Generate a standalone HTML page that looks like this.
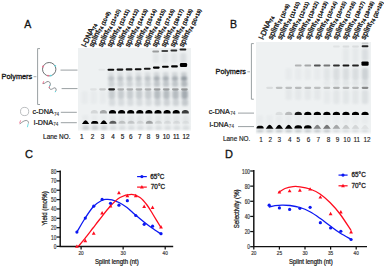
<!DOCTYPE html>
<html><head><meta charset="utf-8"><style>
html,body{margin:0;padding:0;background:#fff;width:384px;height:268px;overflow:hidden}
svg{display:block;font-family:"Liberation Sans", sans-serif}
</style></head><body>
<svg width="384" height="268" viewBox="0 0 384 268" font-family='"Liberation Sans", sans-serif'>
<defs><filter id="bl1" x="-50%" y="-100%" width="200%" height="300%"><feGaussianBlur stdDeviation="0.5"/></filter><filter id="bl2" x="-50%" y="-50%" width="200%" height="200%"><feGaussianBlur stdDeviation="1.1"/></filter><linearGradient id="fadeA" x1="0" y1="0" x2="0" y2="1"><stop offset="0" stop-color="#fff" stop-opacity="0"/><stop offset="1" stop-color="#fff" stop-opacity="1"/></linearGradient></defs>
<rect width="384" height="268" fill="#ffffff"/>
<rect x="78" y="48" width="113" height="83" fill="#eef1f2"/>
<rect x="107.86" y="72.00" width="6.4" height="4.00" rx="2" fill="#55606a" opacity="0.12" filter="url(#bl2)"/>
<rect x="108.03" y="76.00" width="6.4" height="5.00" rx="2" fill="#55606a" opacity="0.3" filter="url(#bl2)"/>
<rect x="108.24" y="81.00" width="6.4" height="6.00" rx="2" fill="#55606a" opacity="0.2" filter="url(#bl2)"/>
<rect x="108.63" y="90.00" width="6.4" height="9.00" rx="2" fill="#55606a" opacity="0.25" filter="url(#bl2)"/>
<rect x="108.94" y="99.00" width="6.4" height="7.00" rx="2" fill="#55606a" opacity="0.14" filter="url(#bl2)"/>
<rect x="109.58" y="115.00" width="6.4" height="9.00" rx="2" fill="#55606a" opacity="0.07" filter="url(#bl2)"/>
<rect x="109.92" y="125.50" width="6.4" height="5.50" rx="2" fill="#55606a" opacity="0.12" filter="url(#bl2)"/>
<rect x="116.96" y="72.00" width="6.4" height="4.00" rx="2" fill="#55606a" opacity="0.12" filter="url(#bl2)"/>
<rect x="117.13" y="76.00" width="6.4" height="5.00" rx="2" fill="#55606a" opacity="0.3" filter="url(#bl2)"/>
<rect x="117.34" y="81.00" width="6.4" height="6.00" rx="2" fill="#55606a" opacity="0.2" filter="url(#bl2)"/>
<rect x="117.73" y="90.00" width="6.4" height="9.00" rx="2" fill="#55606a" opacity="0.25" filter="url(#bl2)"/>
<rect x="118.04" y="99.00" width="6.4" height="7.00" rx="2" fill="#55606a" opacity="0.14" filter="url(#bl2)"/>
<rect x="118.68" y="115.00" width="6.4" height="9.00" rx="2" fill="#55606a" opacity="0.07" filter="url(#bl2)"/>
<rect x="119.02" y="125.50" width="6.4" height="5.50" rx="2" fill="#55606a" opacity="0.12" filter="url(#bl2)"/>
<rect x="126.06" y="72.00" width="6.4" height="4.00" rx="2" fill="#55606a" opacity="0.12" filter="url(#bl2)"/>
<rect x="126.23" y="76.00" width="6.4" height="5.00" rx="2" fill="#55606a" opacity="0.3" filter="url(#bl2)"/>
<rect x="126.44" y="81.00" width="6.4" height="6.00" rx="2" fill="#55606a" opacity="0.2" filter="url(#bl2)"/>
<rect x="126.83" y="90.00" width="6.4" height="9.00" rx="2" fill="#55606a" opacity="0.25" filter="url(#bl2)"/>
<rect x="127.14" y="99.00" width="6.4" height="7.00" rx="2" fill="#55606a" opacity="0.14" filter="url(#bl2)"/>
<rect x="127.78" y="115.00" width="6.4" height="9.00" rx="2" fill="#55606a" opacity="0.07" filter="url(#bl2)"/>
<rect x="128.12" y="125.50" width="6.4" height="5.50" rx="2" fill="#55606a" opacity="0.12" filter="url(#bl2)"/>
<rect x="135.16" y="72.00" width="6.4" height="4.00" rx="2" fill="#55606a" opacity="0.12" filter="url(#bl2)"/>
<rect x="135.33" y="76.00" width="6.4" height="5.00" rx="2" fill="#55606a" opacity="0.3" filter="url(#bl2)"/>
<rect x="135.54" y="81.00" width="6.4" height="6.00" rx="2" fill="#55606a" opacity="0.2" filter="url(#bl2)"/>
<rect x="135.94" y="90.00" width="6.4" height="9.00" rx="2" fill="#55606a" opacity="0.25" filter="url(#bl2)"/>
<rect x="136.24" y="99.00" width="6.4" height="7.00" rx="2" fill="#55606a" opacity="0.14" filter="url(#bl2)"/>
<rect x="136.89" y="115.00" width="6.4" height="9.00" rx="2" fill="#55606a" opacity="0.07" filter="url(#bl2)"/>
<rect x="137.22" y="125.50" width="6.4" height="5.50" rx="2" fill="#55606a" opacity="0.12" filter="url(#bl2)"/>
<rect x="144.26" y="72.00" width="6.4" height="4.00" rx="2" fill="#55606a" opacity="0.12" filter="url(#bl2)"/>
<rect x="144.43" y="76.00" width="6.4" height="5.00" rx="2" fill="#55606a" opacity="0.3" filter="url(#bl2)"/>
<rect x="144.64" y="81.00" width="6.4" height="6.00" rx="2" fill="#55606a" opacity="0.2" filter="url(#bl2)"/>
<rect x="145.04" y="90.00" width="6.4" height="9.00" rx="2" fill="#55606a" opacity="0.25" filter="url(#bl2)"/>
<rect x="145.34" y="99.00" width="6.4" height="7.00" rx="2" fill="#55606a" opacity="0.14" filter="url(#bl2)"/>
<rect x="145.99" y="115.00" width="6.4" height="9.00" rx="2" fill="#55606a" opacity="0.07" filter="url(#bl2)"/>
<rect x="146.32" y="125.50" width="6.4" height="5.50" rx="2" fill="#55606a" opacity="0.12" filter="url(#bl2)"/>
<rect x="153.36" y="72.00" width="6.4" height="4.00" rx="2" fill="#55606a" opacity="0.174" filter="url(#bl2)"/>
<rect x="153.53" y="76.00" width="6.4" height="5.00" rx="2" fill="#55606a" opacity="0.435" filter="url(#bl2)"/>
<rect x="153.74" y="81.00" width="6.4" height="6.00" rx="2" fill="#55606a" opacity="0.29" filter="url(#bl2)"/>
<rect x="154.14" y="90.00" width="6.4" height="9.00" rx="2" fill="#55606a" opacity="0.3625" filter="url(#bl2)"/>
<rect x="154.44" y="99.00" width="6.4" height="7.00" rx="2" fill="#55606a" opacity="0.203" filter="url(#bl2)"/>
<rect x="155.09" y="115.00" width="6.4" height="9.00" rx="2" fill="#55606a" opacity="0.07" filter="url(#bl2)"/>
<rect x="155.42" y="125.50" width="6.4" height="5.50" rx="2" fill="#55606a" opacity="0.12" filter="url(#bl2)"/>
<rect x="162.46" y="72.00" width="6.4" height="4.00" rx="2" fill="#55606a" opacity="0.174" filter="url(#bl2)"/>
<rect x="162.63" y="76.00" width="6.4" height="5.00" rx="2" fill="#55606a" opacity="0.435" filter="url(#bl2)"/>
<rect x="162.84" y="81.00" width="6.4" height="6.00" rx="2" fill="#55606a" opacity="0.29" filter="url(#bl2)"/>
<rect x="163.24" y="90.00" width="6.4" height="9.00" rx="2" fill="#55606a" opacity="0.3625" filter="url(#bl2)"/>
<rect x="163.54" y="99.00" width="6.4" height="7.00" rx="2" fill="#55606a" opacity="0.203" filter="url(#bl2)"/>
<rect x="164.19" y="115.00" width="6.4" height="9.00" rx="2" fill="#55606a" opacity="0.07" filter="url(#bl2)"/>
<rect x="164.52" y="125.50" width="6.4" height="5.50" rx="2" fill="#55606a" opacity="0.12" filter="url(#bl2)"/>
<rect x="171.56" y="72.00" width="6.4" height="4.00" rx="2" fill="#55606a" opacity="0.174" filter="url(#bl2)"/>
<rect x="171.73" y="76.00" width="6.4" height="5.00" rx="2" fill="#55606a" opacity="0.435" filter="url(#bl2)"/>
<rect x="171.94" y="81.00" width="6.4" height="6.00" rx="2" fill="#55606a" opacity="0.29" filter="url(#bl2)"/>
<rect x="172.34" y="90.00" width="6.4" height="9.00" rx="2" fill="#55606a" opacity="0.3625" filter="url(#bl2)"/>
<rect x="172.64" y="99.00" width="6.4" height="7.00" rx="2" fill="#55606a" opacity="0.203" filter="url(#bl2)"/>
<rect x="173.28" y="115.00" width="6.4" height="9.00" rx="2" fill="#55606a" opacity="0.07" filter="url(#bl2)"/>
<rect x="173.62" y="125.50" width="6.4" height="5.50" rx="2" fill="#55606a" opacity="0.12" filter="url(#bl2)"/>
<rect x="180.66" y="72.00" width="6.4" height="4.00" rx="2" fill="#55606a" opacity="0.22799999999999998" filter="url(#bl2)"/>
<rect x="180.83" y="76.00" width="6.4" height="5.00" rx="2" fill="#55606a" opacity="0.57" filter="url(#bl2)"/>
<rect x="181.04" y="81.00" width="6.4" height="6.00" rx="2" fill="#55606a" opacity="0.38" filter="url(#bl2)"/>
<rect x="181.44" y="90.00" width="6.4" height="9.00" rx="2" fill="#55606a" opacity="0.475" filter="url(#bl2)"/>
<rect x="181.74" y="99.00" width="6.4" height="7.00" rx="2" fill="#55606a" opacity="0.266" filter="url(#bl2)"/>
<rect x="182.39" y="115.00" width="6.4" height="9.00" rx="2" fill="#55606a" opacity="0.07" filter="url(#bl2)"/>
<rect x="182.72" y="125.50" width="6.4" height="5.50" rx="2" fill="#55606a" opacity="0.12" filter="url(#bl2)"/>
<rect x="81.45" y="91.00" width="6.4" height="13.00" rx="2" fill="#55606a" opacity="0.04" filter="url(#bl2)"/>
<rect x="82.23" y="115.00" width="6.4" height="6.00" rx="2" fill="#55606a" opacity="0.04" filter="url(#bl2)"/>
<rect x="82.61" y="125.30" width="6.4" height="5.70" rx="2" fill="#55606a" opacity="0.2" filter="url(#bl2)"/>
<rect x="90.55" y="91.00" width="6.4" height="13.00" rx="2" fill="#55606a" opacity="0.04" filter="url(#bl2)"/>
<rect x="91.33" y="115.00" width="6.4" height="6.00" rx="2" fill="#55606a" opacity="0.04" filter="url(#bl2)"/>
<rect x="91.71" y="125.30" width="6.4" height="5.70" rx="2" fill="#55606a" opacity="0.2" filter="url(#bl2)"/>
<rect x="99.65" y="91.00" width="6.4" height="13.00" rx="2" fill="#55606a" opacity="0.04" filter="url(#bl2)"/>
<rect x="100.43" y="115.00" width="6.4" height="6.00" rx="2" fill="#55606a" opacity="0.04" filter="url(#bl2)"/>
<rect x="100.81" y="125.30" width="6.4" height="5.70" rx="2" fill="#55606a" opacity="0.2" filter="url(#bl2)"/>
<rect x="152.75" y="53.00" width="6.4" height="10.00" rx="2" fill="#55606a" opacity="0.07" filter="url(#bl2)"/>
<rect x="161.85" y="53.00" width="6.4" height="10.00" rx="2" fill="#55606a" opacity="0.07" filter="url(#bl2)"/>
<rect x="170.95" y="53.00" width="6.4" height="10.00" rx="2" fill="#55606a" opacity="0.07" filter="url(#bl2)"/>
<rect x="180.05" y="53.00" width="6.4" height="10.00" rx="2" fill="#55606a" opacity="0.12" filter="url(#bl2)"/>
<path d="M81.99,123.92 C83.29,122.66 84.01,120.32 85.59,120.32 C87.18,120.32 87.90,122.66 89.19,123.92 Z" fill="#050505" opacity="1" filter="url(#bl1)"/>
<path d="M91.10,123.86 C90.80,121.62 92.54,121.06 94.70,121.06 C96.86,121.06 98.60,121.62 98.30,123.86 Z" fill="#050505" opacity="1" filter="url(#bl1)"/>
<path d="M100.19,123.92 C101.49,122.66 102.21,120.32 103.79,120.32 C105.38,120.32 106.10,122.66 107.39,123.92 Z" fill="#050505" opacity="1" filter="url(#bl1)"/>
<path d="M109.40,123.84 C109.10,121.28 110.80,120.64 112.90,120.64 C115.00,120.64 116.70,121.28 116.40,123.84 Z" fill="#050505" opacity="0.6" filter="url(#bl1)"/>
<path d="M118.50,123.84 C118.20,121.28 119.90,120.64 122.00,120.64 C124.10,120.64 125.80,121.28 125.50,123.84 Z" fill="#050505" opacity="0.16" filter="url(#bl1)"/>
<path d="M127.60,123.84 C127.30,121.28 129.00,120.64 131.10,120.64 C133.20,120.64 134.90,121.28 134.60,123.84 Z" fill="#050505" opacity="0.14" filter="url(#bl1)"/>
<path d="M136.70,123.84 C136.40,121.28 138.10,120.64 140.20,120.64 C142.30,120.64 144.00,121.28 143.70,123.84 Z" fill="#050505" opacity="0.08" filter="url(#bl1)"/>
<path d="M145.80,123.84 C145.50,121.28 147.20,120.64 149.30,120.64 C151.40,120.64 153.10,121.28 152.80,123.84 Z" fill="#050505" opacity="0.3" filter="url(#bl1)"/>
<path d="M154.90,123.84 C154.60,121.28 156.30,120.64 158.40,120.64 C160.50,120.64 162.20,121.28 161.90,123.84 Z" fill="#050505" opacity="0.08" filter="url(#bl1)"/>
<path d="M164.00,123.84 C163.70,121.28 165.40,120.64 167.50,120.64 C169.60,120.64 171.30,121.28 171.00,123.84 Z" fill="#050505" opacity="0.06" filter="url(#bl1)"/>
<path d="M173.10,123.84 C172.80,121.28 174.50,120.64 176.60,120.64 C178.70,120.64 180.40,121.28 180.10,123.84 Z" fill="#050505" opacity="0.06" filter="url(#bl1)"/>
<path d="M182.20,123.84 C181.90,121.28 183.60,120.64 185.70,120.64 C187.80,120.64 189.50,121.28 189.20,123.84 Z" fill="#050505" opacity="0.04" filter="url(#bl1)"/>
<path d="M90.80,113.62 C90.50,110.74 92.20,110.02 94.30,110.02 C96.40,110.02 98.10,110.74 97.80,113.62 Z" fill="#050505" opacity="0.1" filter="url(#bl1)"/>
<path d="M99.90,113.62 C99.60,110.74 101.30,110.02 103.40,110.02 C105.50,110.02 107.20,110.74 106.90,113.62 Z" fill="#050505" opacity="0.3" filter="url(#bl1)"/>
<path d="M109.00,113.62 C108.70,110.74 110.40,110.02 112.50,110.02 C114.60,110.02 116.30,110.74 116.00,113.62 Z" fill="#050505" opacity="1" filter="url(#bl1)"/>
<path d="M118.10,113.62 C117.80,110.74 119.50,110.02 121.60,110.02 C123.70,110.02 125.40,110.74 125.10,113.62 Z" fill="#050505" opacity="1" filter="url(#bl1)"/>
<path d="M127.20,113.62 C126.90,110.74 128.60,110.02 130.70,110.02 C132.80,110.02 134.50,110.74 134.20,113.62 Z" fill="#050505" opacity="1" filter="url(#bl1)"/>
<path d="M136.30,113.62 C136.00,110.74 137.70,110.02 139.80,110.02 C141.90,110.02 143.60,110.74 143.30,113.62 Z" fill="#050505" opacity="1" filter="url(#bl1)"/>
<path d="M145.40,113.62 C145.10,110.74 146.80,110.02 148.90,110.02 C151.00,110.02 152.70,110.74 152.40,113.62 Z" fill="#050505" opacity="1" filter="url(#bl1)"/>
<path d="M154.50,113.62 C154.20,110.74 155.90,110.02 158.00,110.02 C160.10,110.02 161.80,110.74 161.50,113.62 Z" fill="#050505" opacity="1" filter="url(#bl1)"/>
<path d="M163.60,113.62 C163.30,110.74 165.00,110.02 167.10,110.02 C169.20,110.02 170.90,110.74 170.60,113.62 Z" fill="#050505" opacity="1" filter="url(#bl1)"/>
<path d="M172.70,113.62 C172.40,110.74 174.10,110.02 176.20,110.02 C178.30,110.02 180.00,110.74 179.70,113.62 Z" fill="#050505" opacity="1" filter="url(#bl1)"/>
<path d="M181.80,113.62 C181.50,110.74 183.20,110.02 185.30,110.02 C187.40,110.02 189.10,110.74 188.80,113.62 Z" fill="#050505" opacity="0.75" filter="url(#bl1)"/>
<rect x="90.04" y="88.15" width="6.8" height="2.3" rx="1.15" fill="#050505" opacity="0.06" filter="url(#bl1)"/>
<rect x="99.14" y="88.15" width="6.8" height="2.3" rx="1.15" fill="#050505" opacity="0.16" filter="url(#bl1)"/>
<rect x="108.24" y="88.15" width="6.8" height="2.3" rx="1.15" fill="#050505" opacity="0.85" filter="url(#bl1)"/>
<rect x="117.34" y="88.15" width="6.8" height="2.3" rx="1.15" fill="#050505" opacity="0.24" filter="url(#bl1)"/>
<rect x="126.44" y="88.15" width="6.8" height="2.3" rx="1.15" fill="#050505" opacity="0.24" filter="url(#bl1)"/>
<rect x="135.54" y="88.15" width="6.8" height="2.3" rx="1.15" fill="#050505" opacity="0.24" filter="url(#bl1)"/>
<rect x="144.64" y="88.15" width="6.8" height="2.3" rx="1.15" fill="#050505" opacity="0.24" filter="url(#bl1)"/>
<rect x="153.74" y="88.15" width="6.8" height="2.3" rx="1.15" fill="#050505" opacity="0.3" filter="url(#bl1)"/>
<rect x="162.84" y="88.15" width="6.8" height="2.3" rx="1.15" fill="#050505" opacity="0.3" filter="url(#bl1)"/>
<rect x="171.94" y="88.15" width="6.8" height="2.3" rx="1.15" fill="#050505" opacity="0.3" filter="url(#bl1)"/>
<rect x="181.04" y="88.15" width="6.8" height="2.3" rx="1.15" fill="#050505" opacity="0.32" filter="url(#bl1)"/>
<rect x="98.39" y="68.65" width="6.8" height="2.1" rx="1.05" fill="#050505" opacity="0.04" filter="url(#bl1)"/>
<rect x="107.50" y="68.75" width="6.8" height="2.1" rx="1.05" fill="#050505" opacity="0.95" filter="url(#bl1)"/>
<rect x="116.59" y="68.55" width="6.8" height="2.1" rx="1.05" fill="#050505" opacity="0.9" filter="url(#bl1)"/>
<rect x="125.68" y="68.35" width="6.8" height="2.1" rx="1.05" fill="#050505" opacity="0.9" filter="url(#bl1)"/>
<rect x="134.77" y="68.15" width="6.8" height="2.1" rx="1.05" fill="#050505" opacity="0.95" filter="url(#bl1)"/>
<rect x="143.86" y="67.75" width="6.8" height="2.1" rx="1.05" fill="#050505" opacity="0.9" filter="url(#bl1)"/>
<rect x="152.91" y="66.55" width="6.8" height="2.1" rx="1.05" fill="#050505" opacity="1" filter="url(#bl1)"/>
<rect x="161.98" y="65.75" width="6.8" height="2.1" rx="1.05" fill="#050505" opacity="1" filter="url(#bl1)"/>
<rect x="171.07" y="65.35" width="6.8" height="2.1" rx="1.05" fill="#050505" opacity="1" filter="url(#bl1)"/>
<rect x="179.91" y="63.00" width="7.2" height="4.0" rx="1.2" fill="#050505" opacity="1" filter="url(#bl1)"/>
<rect x="152.30" y="50.50" width="6.8" height="2.0" rx="1.0" fill="#050505" opacity="0.35" filter="url(#bl1)"/>
<rect x="161.38" y="49.90" width="6.8" height="2.0" rx="1.0" fill="#050505" opacity="0.7" filter="url(#bl1)"/>
<rect x="170.47" y="49.60" width="6.8" height="2.0" rx="1.0" fill="#050505" opacity="0.8" filter="url(#bl1)"/>
<rect x="179.53" y="48.60" width="6.8" height="2.0" rx="1.0" fill="#050505" opacity="0.85" filter="url(#bl1)"/>
<rect x="78" y="129" width="113" height="3" fill="url(#fadeA)"/>
<rect x="256" y="42" width="115" height="92" fill="#eef1f2"/>
<rect x="285.52" y="89.00" width="6.4" height="11.00" rx="2" fill="#55606a" opacity="0.06" filter="url(#bl2)"/>
<rect x="285.52" y="68.00" width="6.4" height="12.00" rx="2" fill="#55606a" opacity="0.04" filter="url(#bl2)"/>
<rect x="295.06" y="89.00" width="6.4" height="11.00" rx="2" fill="#55606a" opacity="0.06" filter="url(#bl2)"/>
<rect x="295.06" y="68.00" width="6.4" height="12.00" rx="2" fill="#55606a" opacity="0.04" filter="url(#bl2)"/>
<rect x="304.60" y="89.00" width="6.4" height="11.00" rx="2" fill="#55606a" opacity="0.06" filter="url(#bl2)"/>
<rect x="304.60" y="68.00" width="6.4" height="12.00" rx="2" fill="#55606a" opacity="0.04" filter="url(#bl2)"/>
<rect x="314.14" y="89.00" width="6.4" height="11.00" rx="2" fill="#55606a" opacity="0.06" filter="url(#bl2)"/>
<rect x="314.14" y="68.00" width="6.4" height="12.00" rx="2" fill="#55606a" opacity="0.04" filter="url(#bl2)"/>
<rect x="361.84" y="48.50" width="6.4" height="12.50" rx="2" fill="#55606a" opacity="0.12" filter="url(#bl2)"/>
<rect x="352.30" y="48.00" width="6.4" height="15.00" rx="2" fill="#55606a" opacity="0.05" filter="url(#bl2)"/>
<rect x="342.76" y="48.00" width="6.4" height="15.00" rx="2" fill="#55606a" opacity="0.05" filter="url(#bl2)"/>
<rect x="323.68" y="68.00" width="6.4" height="12.00" rx="2" fill="#55606a" opacity="0.078" filter="url(#bl2)"/>
<rect x="323.68" y="80.00" width="6.4" height="6.00" rx="2" fill="#55606a" opacity="0.048" filter="url(#bl2)"/>
<rect x="323.68" y="90.00" width="6.4" height="14.00" rx="2" fill="#55606a" opacity="0.042" filter="url(#bl2)"/>
<rect x="333.22" y="68.00" width="6.4" height="12.00" rx="2" fill="#55606a" opacity="0.13" filter="url(#bl2)"/>
<rect x="333.22" y="80.00" width="6.4" height="6.00" rx="2" fill="#55606a" opacity="0.08" filter="url(#bl2)"/>
<rect x="333.22" y="90.00" width="6.4" height="14.00" rx="2" fill="#55606a" opacity="0.07" filter="url(#bl2)"/>
<rect x="342.76" y="68.00" width="6.4" height="12.00" rx="2" fill="#55606a" opacity="0.13" filter="url(#bl2)"/>
<rect x="342.76" y="80.00" width="6.4" height="6.00" rx="2" fill="#55606a" opacity="0.08" filter="url(#bl2)"/>
<rect x="342.76" y="90.00" width="6.4" height="14.00" rx="2" fill="#55606a" opacity="0.07" filter="url(#bl2)"/>
<rect x="352.30" y="68.00" width="6.4" height="12.00" rx="2" fill="#55606a" opacity="0.13" filter="url(#bl2)"/>
<rect x="352.30" y="80.00" width="6.4" height="6.00" rx="2" fill="#55606a" opacity="0.08" filter="url(#bl2)"/>
<rect x="352.30" y="90.00" width="6.4" height="14.00" rx="2" fill="#55606a" opacity="0.07" filter="url(#bl2)"/>
<rect x="361.84" y="68.00" width="6.4" height="12.00" rx="2" fill="#55606a" opacity="0.20800000000000002" filter="url(#bl2)"/>
<rect x="361.84" y="80.00" width="6.4" height="6.00" rx="2" fill="#55606a" opacity="0.128" filter="url(#bl2)"/>
<rect x="361.84" y="90.00" width="6.4" height="14.00" rx="2" fill="#55606a" opacity="0.11200000000000002" filter="url(#bl2)"/>
<rect x="256.90" y="115.00" width="6.4" height="9.00" rx="2" fill="#55606a" opacity="0.03" filter="url(#bl2)"/>
<rect x="256.90" y="129.30" width="6.4" height="4.20" rx="2" fill="#55606a" opacity="0.22" filter="url(#bl2)"/>
<rect x="266.44" y="115.00" width="6.4" height="9.00" rx="2" fill="#55606a" opacity="0.03" filter="url(#bl2)"/>
<rect x="266.44" y="129.30" width="6.4" height="4.20" rx="2" fill="#55606a" opacity="0.22" filter="url(#bl2)"/>
<rect x="275.98" y="115.00" width="6.4" height="9.00" rx="2" fill="#55606a" opacity="0.03" filter="url(#bl2)"/>
<rect x="275.98" y="129.30" width="6.4" height="4.20" rx="2" fill="#55606a" opacity="0.22" filter="url(#bl2)"/>
<rect x="285.52" y="115.00" width="6.4" height="9.00" rx="2" fill="#55606a" opacity="0.03" filter="url(#bl2)"/>
<rect x="285.52" y="129.30" width="6.4" height="4.20" rx="2" fill="#55606a" opacity="0.22" filter="url(#bl2)"/>
<rect x="295.06" y="115.00" width="6.4" height="9.00" rx="2" fill="#55606a" opacity="0.03" filter="url(#bl2)"/>
<rect x="295.06" y="129.30" width="6.4" height="4.20" rx="2" fill="#55606a" opacity="0.22" filter="url(#bl2)"/>
<rect x="304.60" y="115.00" width="6.4" height="9.00" rx="2" fill="#55606a" opacity="0.03" filter="url(#bl2)"/>
<rect x="304.60" y="129.30" width="6.4" height="4.20" rx="2" fill="#55606a" opacity="0.22" filter="url(#bl2)"/>
<rect x="314.14" y="115.00" width="6.4" height="9.00" rx="2" fill="#55606a" opacity="0.03" filter="url(#bl2)"/>
<rect x="314.14" y="129.30" width="6.4" height="4.20" rx="2" fill="#55606a" opacity="0.22" filter="url(#bl2)"/>
<rect x="323.68" y="115.00" width="6.4" height="9.00" rx="2" fill="#55606a" opacity="0.03" filter="url(#bl2)"/>
<rect x="323.68" y="129.30" width="6.4" height="4.20" rx="2" fill="#55606a" opacity="0.22" filter="url(#bl2)"/>
<rect x="333.22" y="115.00" width="6.4" height="9.00" rx="2" fill="#55606a" opacity="0.03" filter="url(#bl2)"/>
<rect x="333.22" y="129.30" width="6.4" height="4.20" rx="2" fill="#55606a" opacity="0.1" filter="url(#bl2)"/>
<rect x="342.76" y="115.00" width="6.4" height="9.00" rx="2" fill="#55606a" opacity="0.03" filter="url(#bl2)"/>
<rect x="342.76" y="129.30" width="6.4" height="4.20" rx="2" fill="#55606a" opacity="0.1" filter="url(#bl2)"/>
<rect x="352.30" y="115.00" width="6.4" height="9.00" rx="2" fill="#55606a" opacity="0.03" filter="url(#bl2)"/>
<rect x="352.30" y="129.30" width="6.4" height="4.20" rx="2" fill="#55606a" opacity="0.1" filter="url(#bl2)"/>
<rect x="361.84" y="115.00" width="6.4" height="9.00" rx="2" fill="#55606a" opacity="0.03" filter="url(#bl2)"/>
<rect x="361.84" y="129.30" width="6.4" height="4.20" rx="2" fill="#55606a" opacity="0.1" filter="url(#bl2)"/>
<path d="M256.50,128.46 C256.20,126.22 257.94,125.66 260.10,125.66 C262.26,125.66 264.00,126.22 263.70,128.46 Z" fill="#050505" opacity="1" filter="url(#bl1)"/>
<path d="M265.74,128.70 C267.14,127.30 267.92,124.70 269.64,124.70 C271.36,124.70 272.14,127.30 273.54,128.70 Z" fill="#050505" opacity="1" filter="url(#bl1)"/>
<path d="M275.28,128.70 C276.68,127.30 277.46,124.70 279.18,124.70 C280.90,124.70 281.68,127.30 283.08,128.70 Z" fill="#050505" opacity="1" filter="url(#bl1)"/>
<path d="M284.82,128.70 C286.22,127.30 287.00,124.70 288.72,124.70 C290.44,124.70 291.22,127.30 292.62,128.70 Z" fill="#050505" opacity="1" filter="url(#bl1)"/>
<path d="M294.46,128.53 C294.16,125.81 295.98,125.13 298.26,125.13 C300.54,125.13 302.36,125.81 302.06,128.53 Z" fill="#050505" opacity="1" filter="url(#bl1)"/>
<path d="M304.00,128.53 C303.70,125.81 305.52,125.13 307.80,125.13 C310.08,125.13 311.90,125.81 311.60,128.53 Z" fill="#050505" opacity="1" filter="url(#bl1)"/>
<path d="M313.44,128.70 C314.84,127.30 315.62,124.70 317.34,124.70 C319.06,124.70 319.84,127.30 321.24,128.70 Z" fill="#050505" opacity="0.45" filter="url(#bl1)"/>
<path d="M322.98,128.70 C324.38,127.30 325.16,124.70 326.88,124.70 C328.60,124.70 329.38,127.30 330.78,128.70 Z" fill="#050505" opacity="0.5" filter="url(#bl1)"/>
<path d="M332.52,128.70 C333.92,127.30 334.70,124.70 336.42,124.70 C338.14,124.70 338.92,127.30 340.32,128.70 Z" fill="#050505" opacity="0.3" filter="url(#bl1)"/>
<path d="M342.06,128.70 C343.46,127.30 344.24,124.70 345.96,124.70 C347.68,124.70 348.46,127.30 349.86,128.70 Z" fill="#050505" opacity="0.16" filter="url(#bl1)"/>
<path d="M351.60,128.70 C353.00,127.30 353.78,124.70 355.50,124.70 C357.22,124.70 358.00,127.30 359.40,128.70 Z" fill="#050505" opacity="0.1" filter="url(#bl1)"/>
<path d="M361.14,128.70 C362.54,127.30 363.32,124.70 365.04,124.70 C366.76,124.70 367.54,127.30 368.94,128.70 Z" fill="#050505" opacity="0.05" filter="url(#bl1)"/>
<path d="M275.58,115.08 C275.28,112.44 277.02,111.78 279.18,111.78 C281.34,111.78 283.08,112.44 282.78,115.08 Z" fill="#050505" opacity="0.07" filter="url(#bl1)"/>
<path d="M285.12,115.08 C284.82,112.44 286.56,111.78 288.72,111.78 C290.88,111.78 292.62,112.44 292.32,115.08 Z" fill="#050505" opacity="0.22" filter="url(#bl1)"/>
<path d="M294.66,115.08 C294.36,112.44 296.10,111.78 298.26,111.78 C300.42,111.78 302.16,112.44 301.86,115.08 Z" fill="#050505" opacity="0.9" filter="url(#bl1)"/>
<path d="M304.20,115.08 C303.90,112.44 305.64,111.78 307.80,111.78 C309.96,111.78 311.70,112.44 311.40,115.08 Z" fill="#050505" opacity="1" filter="url(#bl1)"/>
<path d="M313.74,115.08 C313.44,112.44 315.18,111.78 317.34,111.78 C319.50,111.78 321.24,112.44 320.94,115.08 Z" fill="#050505" opacity="1" filter="url(#bl1)"/>
<path d="M323.28,115.08 C322.98,112.44 324.72,111.78 326.88,111.78 C329.04,111.78 330.78,112.44 330.48,115.08 Z" fill="#050505" opacity="1" filter="url(#bl1)"/>
<path d="M332.82,115.08 C332.52,112.44 334.26,111.78 336.42,111.78 C338.58,111.78 340.32,112.44 340.02,115.08 Z" fill="#050505" opacity="1" filter="url(#bl1)"/>
<path d="M342.36,115.08 C342.06,112.44 343.80,111.78 345.96,111.78 C348.12,111.78 349.86,112.44 349.56,115.08 Z" fill="#050505" opacity="1" filter="url(#bl1)"/>
<path d="M351.90,115.08 C351.60,112.44 353.34,111.78 355.50,111.78 C357.66,111.78 359.40,112.44 359.10,115.08 Z" fill="#050505" opacity="1" filter="url(#bl1)"/>
<path d="M361.44,115.08 C361.14,112.44 362.88,111.78 365.04,111.78 C367.20,111.78 368.94,112.44 368.64,115.08 Z" fill="#050505" opacity="1" filter="url(#bl1)"/>
<rect x="266.24" y="86.65" width="6.8" height="2.3" rx="1.15" fill="#050505" opacity="0.08" filter="url(#bl1)"/>
<rect x="275.78" y="86.65" width="6.8" height="2.3" rx="1.15" fill="#050505" opacity="0.2" filter="url(#bl1)"/>
<rect x="285.32" y="86.65" width="6.8" height="2.3" rx="1.15" fill="#050505" opacity="0.2" filter="url(#bl1)"/>
<rect x="294.86" y="86.65" width="6.8" height="2.3" rx="1.15" fill="#050505" opacity="0.22" filter="url(#bl1)"/>
<rect x="304.40" y="86.65" width="6.8" height="2.3" rx="1.15" fill="#050505" opacity="0.22" filter="url(#bl1)"/>
<rect x="313.94" y="86.65" width="6.8" height="2.3" rx="1.15" fill="#050505" opacity="0.2" filter="url(#bl1)"/>
<rect x="323.48" y="86.65" width="6.8" height="2.3" rx="1.15" fill="#050505" opacity="0.2" filter="url(#bl1)"/>
<rect x="333.02" y="86.65" width="6.8" height="2.3" rx="1.15" fill="#050505" opacity="0.26" filter="url(#bl1)"/>
<rect x="342.56" y="86.65" width="6.8" height="2.3" rx="1.15" fill="#050505" opacity="0.24" filter="url(#bl1)"/>
<rect x="352.10" y="86.65" width="6.8" height="2.3" rx="1.15" fill="#050505" opacity="0.24" filter="url(#bl1)"/>
<rect x="361.64" y="86.65" width="6.8" height="2.3" rx="1.15" fill="#050505" opacity="0.42" filter="url(#bl1)"/>
<rect x="294.86" y="64.60" width="6.8" height="1.8" rx="0.9" fill="#050505" opacity="0.25" filter="url(#bl1)"/>
<rect x="304.40" y="64.60" width="6.8" height="1.8" rx="0.9" fill="#050505" opacity="0.3" filter="url(#bl1)"/>
<rect x="313.94" y="64.60" width="6.8" height="1.8" rx="0.9" fill="#050505" opacity="0.65" filter="url(#bl1)"/>
<rect x="323.48" y="64.60" width="6.8" height="1.8" rx="0.9" fill="#050505" opacity="0.5" filter="url(#bl1)"/>
<rect x="333.02" y="64.60" width="6.8" height="1.8" rx="0.9" fill="#050505" opacity="0.8" filter="url(#bl1)"/>
<rect x="342.56" y="64.60" width="6.8" height="1.8" rx="0.9" fill="#050505" opacity="0.9" filter="url(#bl1)"/>
<rect x="352.10" y="64.60" width="6.8" height="1.8" rx="0.9" fill="#050505" opacity="0.85" filter="url(#bl1)"/>
<rect x="361.44" y="61.40" width="7.2" height="4.4" rx="1.2" fill="#050505" opacity="1" filter="url(#bl1)"/>
<rect x="333.02" y="45.55" width="6.8" height="1.9" rx="0.95" fill="#050505" opacity="0.05" filter="url(#bl1)"/>
<rect x="342.56" y="45.55" width="6.8" height="1.9" rx="0.95" fill="#050505" opacity="0.08" filter="url(#bl1)"/>
<rect x="352.10" y="45.55" width="6.8" height="1.9" rx="0.95" fill="#050505" opacity="0.08" filter="url(#bl1)"/>
<rect x="361.64" y="45.35" width="6.8" height="1.9" rx="0.95" fill="#050505" opacity="0.85" filter="url(#bl1)"/>
<rect x="361.64" y="42.45" width="6.8" height="1.9" rx="0.95" fill="#050505" opacity="0.15" filter="url(#bl1)"/>
<rect x="256" y="131.5" width="115" height="3.5" fill="url(#fadeA)"/>
<text x="24.2" y="27.6" font-size="10.5" fill="#111" stroke="#111" stroke-width="0.3" text-anchor="start" >A</text>
<text x="230" y="27.8" font-size="10.5" fill="#111" stroke="#111" stroke-width="0.3" text-anchor="start" >B</text>
<text x="25" y="157.6" font-size="11" fill="#111" stroke="#111" stroke-width="0.3" text-anchor="start" >C</text>
<text x="225" y="157.5" font-size="11" fill="#111" stroke="#111" stroke-width="0.3" text-anchor="start" >D</text>
<text x="1.6" y="78.7" font-size="7.35" fill="#141414" stroke="#141414" stroke-width="0.32" text-anchor="start" >Polymers</text>
<line x1="33.6" y1="76.7" x2="36.4" y2="76.7" stroke="#9aa0a3" stroke-width="0.9"/>
<path d="M40,48.6 H37.6 V104.5 H40" fill="none" stroke="#9aa0a3" stroke-width="1.0"/>
<circle cx="49.2" cy="69.2" r="6.7" fill="none" stroke="#666b6e" stroke-width="0.95"/>
<circle cx="43" cy="66.5" r="0.9" fill="#f07090"/><circle cx="48" cy="75.6" r="0.9" fill="#f07090"/>
<circle cx="55.3" cy="65.8" r="0.9" fill="#60d8e0"/><circle cx="50.8" cy="75.6" r="0.9" fill="#60d8e0"/>
<line x1="60.5" y1="70.1" x2="77.5" y2="70.1" stroke="#9aa0a3" stroke-width="1.0"/>
<path d="M42.8,83.6 C44.5,84.3 46.5,81 48.3,81.5 C50.5,82 51,84.5 49.6,86.2 C48.6,87.5 49.5,89.6 51.3,89.3 C53,89 54.5,86.8 55.8,88.4 C56.5,89.4 56,91 55.2,92" fill="none" stroke="#7a7f82" stroke-width="0.9"/>
<path d="M42.8,83.6 L43.7,81.3" stroke="#f07090" stroke-width="1"/><path d="M49.6,86.2 L49.2,88" stroke="#f07090" stroke-width="1"/>
<path d="M49.9,84.8 L49.6,86.2" stroke="#60d8e0" stroke-width="1"/><path d="M55.6,91 L55.2,92.2" stroke="#60d8e0" stroke-width="1"/>
<line x1="61.6" y1="88.6" x2="77.5" y2="88.6" stroke="#9aa0a3" stroke-width="1.0"/>
<circle cx="24.6" cy="111.5" r="4.1" fill="none" stroke="#9da2a5" stroke-width="0.7"/>
<text x="32.5" y="114.3" font-size="7.2" fill="#161616" stroke="#161616" stroke-width="0.22" text-anchor="start" >c-DNA<tspan font-size="4.6" dx="0.3" dy="1.3" stroke-width="0.08" fill="#333">74</tspan></text>
<line x1="60.8" y1="112.3" x2="76.8" y2="112.3" stroke="#9aa0a3" stroke-width="1.0"/>
<path d="M19.8,124 C21.5,122.5 24.5,120 26.8,120.5 C28.3,121 28.8,122.5 28.3,123.6" fill="none" stroke="#7a7f82" stroke-width="0.8"/>
<path d="M19.6,123.4 L20.6,120.4" stroke="#f07090" stroke-width="0.9"/><path d="M28.2,123.8 L27.4,127.2" stroke="#60d8e0" stroke-width="0.9"/>
<text x="33.8" y="124.8" font-size="7.2" fill="#161616" stroke="#161616" stroke-width="0.22" text-anchor="start" >l-DNA<tspan font-size="4.6" dx="0.3" dy="1.3" stroke-width="0.08" fill="#333">74</tspan></text>
<line x1="60.8" y1="122.7" x2="76.8" y2="122.7" stroke="#9aa0a3" stroke-width="1.0"/>
<text x="43.1" y="139.2" font-size="6.4" fill="#1a1a1a" stroke="#1a1a1a" stroke-width="0.18" text-anchor="start" >Lane NO.</text>
<text x="81.7" y="139.2" font-size="6.4" fill="#1a1a1a" stroke="#1a1a1a" stroke-width="0.18" text-anchor="middle" >1</text>
<text x="92.5" y="139.2" font-size="6.4" fill="#1a1a1a" stroke="#1a1a1a" stroke-width="0.18" text-anchor="middle" >2</text>
<text x="102.5" y="139.2" font-size="6.4" fill="#1a1a1a" stroke="#1a1a1a" stroke-width="0.18" text-anchor="middle" >3</text>
<text x="113" y="139.2" font-size="6.4" fill="#1a1a1a" stroke="#1a1a1a" stroke-width="0.18" text-anchor="middle" >4</text>
<text x="122.5" y="139.2" font-size="6.4" fill="#1a1a1a" stroke="#1a1a1a" stroke-width="0.18" text-anchor="middle" >5</text>
<text x="130.8" y="139.2" font-size="6.4" fill="#1a1a1a" stroke="#1a1a1a" stroke-width="0.18" text-anchor="middle" >6</text>
<text x="139.8" y="139.2" font-size="6.4" fill="#1a1a1a" stroke="#1a1a1a" stroke-width="0.18" text-anchor="middle" >7</text>
<text x="148.5" y="139.2" font-size="6.4" fill="#1a1a1a" stroke="#1a1a1a" stroke-width="0.18" text-anchor="middle" >8</text>
<text x="157.5" y="139.2" font-size="6.4" fill="#1a1a1a" stroke="#1a1a1a" stroke-width="0.18" text-anchor="middle" >9</text>
<text x="166.3" y="139.2" font-size="6.4" fill="#1a1a1a" stroke="#1a1a1a" stroke-width="0.18" text-anchor="middle" >10</text>
<text x="176.3" y="139.2" font-size="6.4" fill="#1a1a1a" stroke="#1a1a1a" stroke-width="0.18" text-anchor="middle" >11</text>
<text x="186" y="139.2" font-size="6.4" fill="#1a1a1a" stroke="#1a1a1a" stroke-width="0.18" text-anchor="middle" >12</text>
<text x="215.6" y="73.6" font-size="7.3" fill="#141414" stroke="#141414" stroke-width="0.3" text-anchor="start" >Polymers</text>
<line x1="247.3" y1="71.8" x2="250" y2="71.8" stroke="#9aa0a3" stroke-width="0.9"/>
<path d="M253.8,43.6 H251.4 V99.2 H253.8" fill="none" stroke="#9aa0a3" stroke-width="1.0"/>
<text x="208.7" y="114.0" font-size="7.2" fill="#161616" stroke="#161616" stroke-width="0.22" text-anchor="start" >c-DNA<tspan font-size="4.6" dx="0.3" dy="1.3" stroke-width="0.08" fill="#333">74</tspan></text>
<line x1="238" y1="113.1" x2="254" y2="113.1" stroke="#9aa0a3" stroke-width="1.0"/>
<text x="209.4" y="126.5" font-size="7.2" fill="#161616" stroke="#161616" stroke-width="0.22" text-anchor="start" >l-DNA<tspan font-size="4.6" dx="0.3" dy="1.3" stroke-width="0.08" fill="#333">74</tspan></text>
<line x1="238" y1="126.6" x2="254" y2="126.6" stroke="#9aa0a3" stroke-width="1.0"/>
<text x="223" y="141.2" font-size="6.4" fill="#1a1a1a" stroke="#1a1a1a" stroke-width="0.15" text-anchor="start" >Lane NO.</text>
<text x="261" y="141.7" font-size="6.4" fill="#1a1a1a" stroke="#1a1a1a" stroke-width="0.12" text-anchor="middle" >1</text>
<text x="270.4" y="141.7" font-size="6.4" fill="#1a1a1a" stroke="#1a1a1a" stroke-width="0.12" text-anchor="middle" >2</text>
<text x="279.4" y="141.7" font-size="6.4" fill="#1a1a1a" stroke="#1a1a1a" stroke-width="0.12" text-anchor="middle" >3</text>
<text x="289.7" y="141.7" font-size="6.4" fill="#1a1a1a" stroke="#1a1a1a" stroke-width="0.12" text-anchor="middle" >4</text>
<text x="298.2" y="141.7" font-size="6.4" fill="#1a1a1a" stroke="#1a1a1a" stroke-width="0.12" text-anchor="middle" >5</text>
<text x="308.6" y="141.7" font-size="6.4" fill="#1a1a1a" stroke="#1a1a1a" stroke-width="0.12" text-anchor="middle" >6</text>
<text x="318.2" y="141.7" font-size="6.4" fill="#1a1a1a" stroke="#1a1a1a" stroke-width="0.12" text-anchor="middle" >7</text>
<text x="328.5" y="141.7" font-size="6.4" fill="#1a1a1a" stroke="#1a1a1a" stroke-width="0.12" text-anchor="middle" >8</text>
<text x="337.5" y="141.7" font-size="6.4" fill="#1a1a1a" stroke="#1a1a1a" stroke-width="0.12" text-anchor="middle" >9</text>
<text x="346.9" y="141.7" font-size="6.4" fill="#1a1a1a" stroke="#1a1a1a" stroke-width="0.12" text-anchor="middle" >10</text>
<text x="356.7" y="141.7" font-size="6.4" fill="#1a1a1a" stroke="#1a1a1a" stroke-width="0.12" text-anchor="middle" >11</text>
<text x="367" y="141.7" font-size="6.4" fill="#1a1a1a" stroke="#1a1a1a" stroke-width="0.12" text-anchor="middle" >12</text>
<text x="0" y="0" font-size="7.5" fill="#1a1a1a" stroke="#1a1a1a" stroke-width="0.36" transform="translate(86.00 47.6) rotate(-66) scale(1.0 1)">l-DNA<tspan font-size="5.0" dy="1.4">74</tspan></text>
<text x="0" y="0" font-size="7.5" fill="#1a1a1a" stroke="#1a1a1a" stroke-width="0.36" transform="translate(93.20 47.6) rotate(-66) scale(1.0 1)">splint<tspan font-size="5.0" dy="1.4">74 (10+9)</tspan></text>
<text x="0" y="0" font-size="7.5" fill="#1a1a1a" stroke="#1a1a1a" stroke-width="0.36" transform="translate(102.20 47.6) rotate(-66) scale(1.0 1)">splint<tspan font-size="5.0" dy="1.4">74 (11+10)</tspan></text>
<text x="0" y="0" font-size="7.5" fill="#1a1a1a" stroke="#1a1a1a" stroke-width="0.36" transform="translate(111.20 47.6) rotate(-66) scale(1.0 1)">splint<tspan font-size="5.0" dy="1.4">74 (12+11)</tspan></text>
<text x="0" y="0" font-size="7.5" fill="#1a1a1a" stroke="#1a1a1a" stroke-width="0.36" transform="translate(120.20 47.6) rotate(-66) scale(1.0 1)">splint<tspan font-size="5.0" dy="1.4">74 (13+12)</tspan></text>
<text x="0" y="0" font-size="7.5" fill="#1a1a1a" stroke="#1a1a1a" stroke-width="0.36" transform="translate(129.20 47.6) rotate(-66) scale(1.0 1)">splint<tspan font-size="5.0" dy="1.4">74 (14+13)</tspan></text>
<text x="0" y="0" font-size="7.5" fill="#1a1a1a" stroke="#1a1a1a" stroke-width="0.36" transform="translate(138.20 47.6) rotate(-66) scale(1.0 1)">splint<tspan font-size="5.0" dy="1.4">74 (15+14)</tspan></text>
<text x="0" y="0" font-size="7.5" fill="#1a1a1a" stroke="#1a1a1a" stroke-width="0.36" transform="translate(147.20 47.6) rotate(-66) scale(1.0 1)">splint<tspan font-size="5.0" dy="1.4">74 (16+15)</tspan></text>
<text x="0" y="0" font-size="7.5" fill="#1a1a1a" stroke="#1a1a1a" stroke-width="0.36" transform="translate(156.20 47.6) rotate(-66) scale(1.0 1)">splint<tspan font-size="5.0" dy="1.4">74 (17+16)</tspan></text>
<text x="0" y="0" font-size="7.5" fill="#1a1a1a" stroke="#1a1a1a" stroke-width="0.36" transform="translate(165.20 47.6) rotate(-66) scale(1.0 1)">splint<tspan font-size="5.0" dy="1.4">74 (18+17)</tspan></text>
<text x="0" y="0" font-size="7.5" fill="#1a1a1a" stroke="#1a1a1a" stroke-width="0.36" transform="translate(174.20 47.6) rotate(-66) scale(1.0 1)">splint<tspan font-size="5.0" dy="1.4">74 (19+18)</tspan></text>
<text x="0" y="0" font-size="7.5" fill="#1a1a1a" stroke="#1a1a1a" stroke-width="0.36" transform="translate(183.20 47.6) rotate(-66) scale(1.0 1)">splint<tspan font-size="5.0" dy="1.4">74 (20+19)</tspan></text>
<text x="0" y="0" font-size="7.5" fill="#1a1a1a" stroke="#1a1a1a" stroke-width="0.36" transform="translate(263.20 40.0) rotate(-66) scale(1.0 1)">l-DNA<tspan font-size="5.0" dy="1.4">74</tspan></text>
<text x="0" y="0" font-size="7.5" fill="#1a1a1a" stroke="#1a1a1a" stroke-width="0.36" transform="translate(272.30 40.0) rotate(-66) scale(1.0 1)">splint<tspan font-size="5.0" dy="1.4">74 (10+9)</tspan></text>
<text x="0" y="0" font-size="7.5" fill="#1a1a1a" stroke="#1a1a1a" stroke-width="0.36" transform="translate(281.57 40.0) rotate(-66) scale(1.0 1)">splint<tspan font-size="5.0" dy="1.4">74 (11+10)</tspan></text>
<text x="0" y="0" font-size="7.5" fill="#1a1a1a" stroke="#1a1a1a" stroke-width="0.36" transform="translate(290.84 40.0) rotate(-66) scale(1.0 1)">splint<tspan font-size="5.0" dy="1.4">74 (12+11)</tspan></text>
<text x="0" y="0" font-size="7.5" fill="#1a1a1a" stroke="#1a1a1a" stroke-width="0.36" transform="translate(300.11 40.0) rotate(-66) scale(1.0 1)">splint<tspan font-size="5.0" dy="1.4">74 (13+12)</tspan></text>
<text x="0" y="0" font-size="7.5" fill="#1a1a1a" stroke="#1a1a1a" stroke-width="0.36" transform="translate(309.38 40.0) rotate(-66) scale(1.0 1)">splint<tspan font-size="5.0" dy="1.4">74 (14+13)</tspan></text>
<text x="0" y="0" font-size="7.5" fill="#1a1a1a" stroke="#1a1a1a" stroke-width="0.36" transform="translate(318.65 40.0) rotate(-66) scale(1.0 1)">splint<tspan font-size="5.0" dy="1.4">74 (15+14)</tspan></text>
<text x="0" y="0" font-size="7.5" fill="#1a1a1a" stroke="#1a1a1a" stroke-width="0.36" transform="translate(327.92 40.0) rotate(-66) scale(1.0 1)">splint<tspan font-size="5.0" dy="1.4">74 (16+15)</tspan></text>
<text x="0" y="0" font-size="7.5" fill="#1a1a1a" stroke="#1a1a1a" stroke-width="0.36" transform="translate(337.19 40.0) rotate(-66) scale(1.0 1)">splint<tspan font-size="5.0" dy="1.4">74 (17+16)</tspan></text>
<text x="0" y="0" font-size="7.5" fill="#1a1a1a" stroke="#1a1a1a" stroke-width="0.36" transform="translate(346.46 40.0) rotate(-66) scale(1.0 1)">splint<tspan font-size="5.0" dy="1.4">74 (18+17)</tspan></text>
<text x="0" y="0" font-size="7.5" fill="#1a1a1a" stroke="#1a1a1a" stroke-width="0.36" transform="translate(355.73 40.0) rotate(-66) scale(1.0 1)">splint<tspan font-size="5.0" dy="1.4">74 (19+18)</tspan></text>
<text x="0" y="0" font-size="7.5" fill="#1a1a1a" stroke="#1a1a1a" stroke-width="0.36" transform="translate(365.00 40.0) rotate(-66) scale(1.0 1)">splint<tspan font-size="5.0" dy="1.4">74 (20+19)</tspan></text>
<path d="M60.2,170.4 V246.4 H173.2" fill="none" stroke="#111" stroke-width="1.45"/>
<line x1="56.6" y1="246.40" x2="60.2" y2="246.40" stroke="#111" stroke-width="1.25"/>
<text x="0" y="0" font-size="6.4" fill="#3a3a3a" stroke="#3a3a3a" stroke-width="0.2" text-anchor="end" transform="translate(56.30 248.90) scale(0.74 1)">0</text>
<line x1="56.6" y1="237.04" x2="60.2" y2="237.04" stroke="#111" stroke-width="1.25"/>
<text x="0" y="0" font-size="6.4" fill="#3a3a3a" stroke="#3a3a3a" stroke-width="0.2" text-anchor="end" transform="translate(56.30 239.54) scale(0.74 1)">10</text>
<line x1="56.6" y1="227.68" x2="60.2" y2="227.68" stroke="#111" stroke-width="1.25"/>
<text x="0" y="0" font-size="6.4" fill="#3a3a3a" stroke="#3a3a3a" stroke-width="0.2" text-anchor="end" transform="translate(56.30 230.18) scale(0.74 1)">20</text>
<line x1="56.6" y1="218.32" x2="60.2" y2="218.32" stroke="#111" stroke-width="1.25"/>
<text x="0" y="0" font-size="6.4" fill="#3a3a3a" stroke="#3a3a3a" stroke-width="0.2" text-anchor="end" transform="translate(56.30 220.82) scale(0.74 1)">30</text>
<line x1="56.6" y1="208.96" x2="60.2" y2="208.96" stroke="#111" stroke-width="1.25"/>
<text x="0" y="0" font-size="6.4" fill="#3a3a3a" stroke="#3a3a3a" stroke-width="0.2" text-anchor="end" transform="translate(56.30 211.46) scale(0.74 1)">40</text>
<line x1="56.6" y1="199.60" x2="60.2" y2="199.60" stroke="#111" stroke-width="1.25"/>
<text x="0" y="0" font-size="6.4" fill="#3a3a3a" stroke="#3a3a3a" stroke-width="0.2" text-anchor="end" transform="translate(56.30 202.10) scale(0.74 1)">50</text>
<line x1="56.6" y1="190.24" x2="60.2" y2="190.24" stroke="#111" stroke-width="1.25"/>
<text x="0" y="0" font-size="6.4" fill="#3a3a3a" stroke="#3a3a3a" stroke-width="0.2" text-anchor="end" transform="translate(56.30 192.74) scale(0.74 1)">60</text>
<line x1="56.6" y1="180.88" x2="60.2" y2="180.88" stroke="#111" stroke-width="1.25"/>
<text x="0" y="0" font-size="6.4" fill="#3a3a3a" stroke="#3a3a3a" stroke-width="0.2" text-anchor="end" transform="translate(56.30 183.38) scale(0.74 1)">70</text>
<line x1="56.6" y1="171.52" x2="60.2" y2="171.52" stroke="#111" stroke-width="1.25"/>
<text x="0" y="0" font-size="6.4" fill="#3a3a3a" stroke="#3a3a3a" stroke-width="0.2" text-anchor="end" transform="translate(56.30 174.02) scale(0.74 1)">80</text>
<line x1="81.10" y1="246.4" x2="81.10" y2="249.4" stroke="#111" stroke-width="1.25"/>
<text x="0" y="0" font-size="6.2" fill="#3a3a3a" stroke="#3a3a3a" stroke-width="0.2" text-anchor="middle" transform="translate(81.10 255.20) scale(0.76 1)">20</text>
<line x1="123.15" y1="246.4" x2="123.15" y2="249.4" stroke="#111" stroke-width="1.25"/>
<text x="0" y="0" font-size="6.2" fill="#3a3a3a" stroke="#3a3a3a" stroke-width="0.2" text-anchor="middle" transform="translate(123.15 255.20) scale(0.76 1)">30</text>
<line x1="165.20" y1="246.4" x2="165.20" y2="249.4" stroke="#111" stroke-width="1.25"/>
<text x="0" y="0" font-size="6.2" fill="#3a3a3a" stroke="#3a3a3a" stroke-width="0.2" text-anchor="middle" transform="translate(165.20 255.20) scale(0.76 1)">40</text>
<text x="0" y="0" font-size="6.8" fill="#1a1a1a" stroke="#1a1a1a" stroke-width="0.25" transform="translate(95 264.3) scale(0.885 1)">Splint length (nt)</text>
<text x="0" y="0" font-size="6.4" fill="#1a1a1a" stroke="#1a1a1a" stroke-width="0.25" text-anchor="middle" transform="translate(47.4 208.5) rotate(-90) scale(0.96 1)">Yield (mol%)</text>
<path d="M76.80,232.30 C78.20,229.92 82.42,222.30 85.20,218.00 C87.98,213.70 90.70,209.47 93.50,206.50 C96.30,203.53 99.75,201.40 102.00,200.20 C104.25,199.00 105.33,199.37 107.00,199.30 C108.67,199.23 110.00,199.27 112.00,199.80 C114.00,200.33 116.50,201.22 119.00,202.50 C121.50,203.78 124.33,205.50 127.00,207.50 C129.67,209.50 132.17,212.08 135.00,214.50 C137.83,216.92 141.17,219.75 144.00,222.00 C146.83,224.25 149.17,226.00 152.00,228.00 C154.83,230.00 159.50,233.00 161.00,234.00" fill="none" stroke="#0c18f2" stroke-width="1.3"/>
<path d="M78.50,246.30 C79.58,244.97 82.58,241.35 85.00,238.30 C87.42,235.25 90.63,231.05 93.00,228.00 C95.37,224.95 96.37,223.58 99.20,220.00 C102.03,216.42 106.53,210.25 110.00,206.50 C113.47,202.75 116.40,199.52 120.00,197.50 C123.60,195.48 128.27,194.40 131.60,194.40 C134.93,194.40 137.43,195.73 140.00,197.50 C142.57,199.27 144.83,202.17 147.00,205.00 C149.17,207.83 150.68,210.75 153.00,214.50 C155.32,218.25 159.58,225.33 160.90,227.50" fill="none" stroke="#ff0c1e" stroke-width="1.3"/>
<circle cx="76.89" cy="232.08" r="1.6" fill="#0c18f2"/>
<circle cx="85.30" cy="218.04" r="1.6" fill="#0c18f2"/>
<circle cx="93.71" cy="206.15" r="1.6" fill="#0c18f2"/>
<circle cx="102.12" cy="199.41" r="1.6" fill="#0c18f2"/>
<circle cx="110.53" cy="203.34" r="1.6" fill="#0c18f2"/>
<circle cx="118.94" cy="205.22" r="1.6" fill="#0c18f2"/>
<circle cx="127.35" cy="200.63" r="1.6" fill="#0c18f2"/>
<circle cx="135.76" cy="215.51" r="1.6" fill="#0c18f2"/>
<circle cx="144.18" cy="224.31" r="1.6" fill="#0c18f2"/>
<circle cx="152.58" cy="226.18" r="1.6" fill="#0c18f2"/>
<circle cx="161.00" cy="233.67" r="1.6" fill="#0c18f2"/>
<path d="M76.89,244.41 L78.80,247.83 L74.99,247.83Z" fill="#ff0c1e"/>
<path d="M85.30,238.79 L87.20,242.21 L83.40,242.21Z" fill="#ff0c1e"/>
<path d="M93.71,231.21 L95.61,234.63 L91.81,234.63Z" fill="#ff0c1e"/>
<path d="M102.12,210.99 L104.03,214.41 L100.22,214.41Z" fill="#ff0c1e"/>
<path d="M110.53,204.16 L112.44,207.58 L108.63,207.58Z" fill="#ff0c1e"/>
<path d="M118.94,190.77 L120.84,194.19 L117.04,194.19Z" fill="#ff0c1e"/>
<path d="M127.35,193.86 L129.25,197.28 L125.45,197.28Z" fill="#ff0c1e"/>
<path d="M135.76,193.86 L137.66,197.28 L133.86,197.28Z" fill="#ff0c1e"/>
<path d="M144.18,204.62 L146.08,208.05 L142.28,208.05Z" fill="#ff0c1e"/>
<path d="M152.58,205.56 L154.48,208.98 L150.68,208.98Z" fill="#ff0c1e"/>
<path d="M161.00,225.12 L162.90,228.54 L159.09,228.54Z" fill="#ff0c1e"/>
<line x1="137.1" y1="176.6" x2="146.8" y2="176.6" stroke="#0c18f2" stroke-width="1.2"/><circle cx="141.9" cy="176.6" r="1.6" fill="#0c18f2"/>
<text x="150.2" y="178.8" font-size="6.4" fill="#222" stroke="#222" stroke-width="0.3" text-anchor="start" >65°C</text>
<line x1="137.1" y1="187.1" x2="146.8" y2="187.1" stroke="#ff0c1e" stroke-width="1.2"/><path d="M141.90,185.10 L143.80,188.53 L140.00,188.53Z" fill="#ff0c1e"/>
<text x="150.8" y="189.3" font-size="6.4" fill="#222" stroke="#222" stroke-width="0.3" text-anchor="start" >70°C</text>
<path d="M253.8,170.1 V246.6 H367" fill="none" stroke="#111" stroke-width="1.45"/>
<line x1="250.20000000000002" y1="246.70" x2="253.8" y2="246.70" stroke="#111" stroke-width="1.25"/>
<text x="0" y="0" font-size="6.4" fill="#3a3a3a" stroke="#3a3a3a" stroke-width="0.2" text-anchor="end" transform="translate(249.90 249.20) scale(0.74 1)">0</text>
<line x1="250.20000000000002" y1="231.56" x2="253.8" y2="231.56" stroke="#111" stroke-width="1.25"/>
<text x="0" y="0" font-size="6.4" fill="#3a3a3a" stroke="#3a3a3a" stroke-width="0.2" text-anchor="end" transform="translate(249.90 234.06) scale(0.74 1)">20</text>
<line x1="250.20000000000002" y1="216.42" x2="253.8" y2="216.42" stroke="#111" stroke-width="1.25"/>
<text x="0" y="0" font-size="6.4" fill="#3a3a3a" stroke="#3a3a3a" stroke-width="0.2" text-anchor="end" transform="translate(249.90 218.92) scale(0.74 1)">40</text>
<line x1="250.20000000000002" y1="201.28" x2="253.8" y2="201.28" stroke="#111" stroke-width="1.25"/>
<text x="0" y="0" font-size="6.4" fill="#3a3a3a" stroke="#3a3a3a" stroke-width="0.2" text-anchor="end" transform="translate(249.90 203.78) scale(0.74 1)">60</text>
<line x1="250.20000000000002" y1="186.14" x2="253.8" y2="186.14" stroke="#111" stroke-width="1.25"/>
<text x="0" y="0" font-size="6.4" fill="#3a3a3a" stroke="#3a3a3a" stroke-width="0.2" text-anchor="end" transform="translate(249.90 188.64) scale(0.74 1)">80</text>
<line x1="250.20000000000002" y1="171.00" x2="253.8" y2="171.00" stroke="#111" stroke-width="1.25"/>
<text x="0" y="0" font-size="6.4" fill="#3a3a3a" stroke="#3a3a3a" stroke-width="0.2" text-anchor="end" transform="translate(249.90 173.50) scale(0.74 1)">100</text>
<line x1="253.80" y1="246.6" x2="253.80" y2="249.6" stroke="#111" stroke-width="1.25"/>
<text x="0" y="0" font-size="6.2" fill="#3a3a3a" stroke="#3a3a3a" stroke-width="0.2" text-anchor="middle" transform="translate(253.80 255.40) scale(0.76 1)">20</text>
<line x1="279.40" y1="246.6" x2="279.40" y2="249.6" stroke="#111" stroke-width="1.25"/>
<text x="0" y="0" font-size="6.2" fill="#3a3a3a" stroke="#3a3a3a" stroke-width="0.2" text-anchor="middle" transform="translate(279.40 255.40) scale(0.76 1)">25</text>
<line x1="305.00" y1="246.6" x2="305.00" y2="249.6" stroke="#111" stroke-width="1.25"/>
<text x="0" y="0" font-size="6.2" fill="#3a3a3a" stroke="#3a3a3a" stroke-width="0.2" text-anchor="middle" transform="translate(305.00 255.40) scale(0.76 1)">30</text>
<line x1="330.60" y1="246.6" x2="330.60" y2="249.6" stroke="#111" stroke-width="1.25"/>
<text x="0" y="0" font-size="6.2" fill="#3a3a3a" stroke="#3a3a3a" stroke-width="0.2" text-anchor="middle" transform="translate(330.60 255.40) scale(0.76 1)">35</text>
<line x1="356.20" y1="246.6" x2="356.20" y2="249.6" stroke="#111" stroke-width="1.25"/>
<text x="0" y="0" font-size="6.2" fill="#3a3a3a" stroke="#3a3a3a" stroke-width="0.2" text-anchor="middle" transform="translate(356.20 255.40) scale(0.76 1)">40</text>
<text x="0" y="0" font-size="6.8" fill="#1a1a1a" stroke="#1a1a1a" stroke-width="0.25" transform="translate(289 264.3) scale(0.885 1)">Splint length (nt)</text>
<text x="0" y="0" font-size="6.4" fill="#1a1a1a" stroke="#1a1a1a" stroke-width="0.25" text-anchor="middle" transform="translate(239.1 208.8) rotate(-90) scale(0.96 1)">Selectivity (%)</text>
<circle cx="269.16" cy="205.14" r="1.6" fill="#0c18f2"/>
<circle cx="279.40" cy="207.94" r="1.6" fill="#0c18f2"/>
<circle cx="289.64" cy="209.46" r="1.6" fill="#0c18f2"/>
<circle cx="299.88" cy="208.32" r="1.6" fill="#0c18f2"/>
<circle cx="310.12" cy="207.34" r="1.6" fill="#0c18f2"/>
<circle cx="320.36" cy="222.70" r="1.6" fill="#0c18f2"/>
<circle cx="330.60" cy="228.00" r="1.6" fill="#0c18f2"/>
<circle cx="340.84" cy="231.26" r="1.6" fill="#0c18f2"/>
<circle cx="351.08" cy="239.51" r="1.6" fill="#0c18f2"/>
<path d="M279.40,190.20 L281.30,193.62 L277.50,193.62Z" fill="#ff0c1e"/>
<path d="M289.64,188.91 L291.54,192.33 L287.74,192.33Z" fill="#ff0c1e"/>
<path d="M299.88,188.31 L301.78,191.73 L297.98,191.73Z" fill="#ff0c1e"/>
<path d="M310.12,187.17 L312.02,190.59 L308.22,190.59Z" fill="#ff0c1e"/>
<path d="M320.36,195.20 L322.26,198.62 L318.46,198.62Z" fill="#ff0c1e"/>
<path d="M330.60,211.85 L332.50,215.27 L328.70,215.27Z" fill="#ff0c1e"/>
<path d="M340.84,209.96 L342.74,213.38 L338.94,213.38Z" fill="#ff0c1e"/>
<path d="M351.08,230.09 L352.98,233.51 L349.18,233.51Z" fill="#ff0c1e"/>
<path d="M268.80,207.00 C269.83,206.78 272.80,206.02 275.00,205.70 C277.20,205.38 279.50,205.13 282.00,205.10 C284.50,205.07 287.00,205.10 290.00,205.50 C293.00,205.90 296.67,206.45 300.00,207.50 C303.33,208.55 306.67,210.00 310.00,211.80 C313.33,213.60 316.67,215.97 320.00,218.30 C323.33,220.63 326.67,223.35 330.00,225.80 C333.33,228.25 336.48,230.75 340.00,233.00 C343.52,235.25 349.25,238.25 351.10,239.30" fill="none" stroke="#0c18f2" stroke-width="1.3"/>
<path d="M278.30,192.60 C279.42,191.92 282.55,189.50 285.00,188.50 C287.45,187.50 290.50,186.88 293.00,186.60 C295.50,186.32 297.17,186.40 300.00,186.80 C302.83,187.20 306.67,187.80 310.00,189.00 C313.33,190.20 316.67,191.75 320.00,194.00 C323.33,196.25 326.67,199.17 330.00,202.50 C333.33,205.83 336.48,209.33 340.00,214.00 C343.52,218.67 349.25,227.75 351.10,230.50" fill="none" stroke="#ff0c1e" stroke-width="1.3"/>
<line x1="338.5" y1="175.1" x2="347.6" y2="175.1" stroke="#0c18f2" stroke-width="1.2"/><circle cx="343" cy="175.1" r="1.6" fill="#0c18f2"/>
<text x="351.5" y="177.3" font-size="6.4" fill="#222" stroke="#222" stroke-width="0.3" text-anchor="start" >65°C</text>
<line x1="338.5" y1="185.8" x2="347.6" y2="185.8" stroke="#ff0c1e" stroke-width="1.2"/><path d="M343.00,183.81 L344.90,187.23 L341.10,187.23Z" fill="#ff0c1e"/>
<text x="351.5" y="188.0" font-size="6.4" fill="#222" stroke="#222" stroke-width="0.3" text-anchor="start" >70°C</text>
</svg>
</body></html>
